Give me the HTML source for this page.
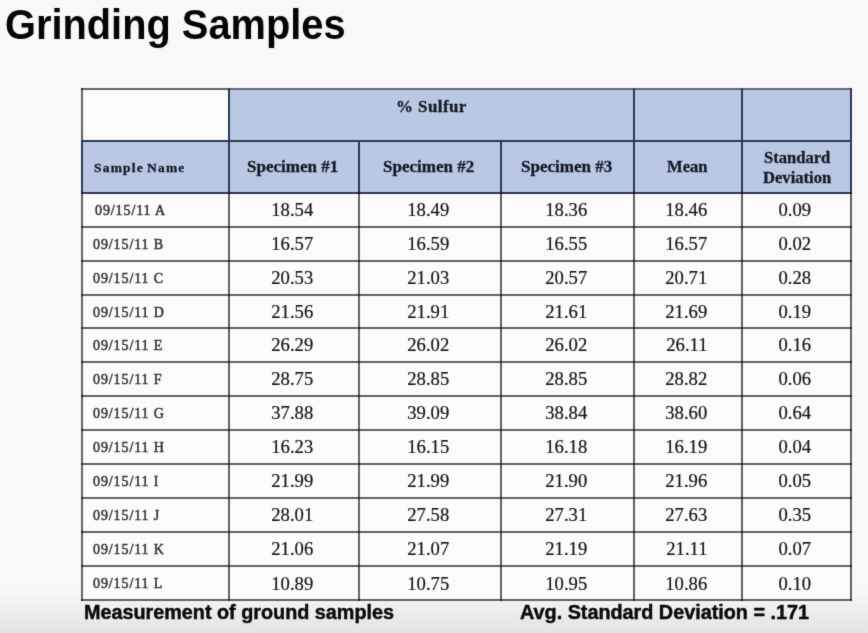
<!DOCTYPE html>
<html><head><meta charset="utf-8">
<style>
html,body{margin:0;padding:0;}
body{width:868px;height:633px;overflow:hidden;position:relative;background:#f8f8fa;font-family:"Liberation Sans",sans-serif;}
#grad{position:absolute;left:0;top:588px;width:868px;height:45px;background:linear-gradient(to bottom,rgba(227,227,229,0) 0%,rgba(227,227,229,1) 100%);}
#wrap{position:absolute;left:0;top:0;width:868px;height:633px;filter:url(#bl);}
.a{position:absolute;}
.t{white-space:nowrap;display:block;will-change:transform;}
h1{position:absolute;left:5px;top:2px;margin:0;font:bold 39.8px/46px "Liberation Sans",sans-serif;color:#050505;transform:scaleY(1.09);transform-origin:0 38px;}
.cap{position:absolute;top:600px;font:bold 19.8px/24px "Liberation Sans",sans-serif;color:#0a0a0a;-webkit-text-stroke:0.45px #0a0a0a;}
.cell{position:absolute;display:flex;align-items:center;justify-content:center;box-sizing:border-box;}
.w{background:#fbfbfc;}
.b{background:#b9c8e3;}
.hd{font:bold 16.6px/19.7px "Liberation Serif",serif;color:#151a26;text-align:center;-webkit-text-stroke:0.3px #151a26;}
.hd .t{position:relative;top:1px;}
.sp{font-size:17px;}
.sp .t,.mn .t{top:0px;left:-1px;}
.sd .t{left:0.7px;}
.num{font:18px/20px "Liberation Serif",serif;color:#151515;-webkit-text-stroke:0.2px #1a1a1a;}
.num .t{position:relative;top:0px;left:-1.5px;transform:scaleX(1.035);}
.sn{font:14px/16px "Liberation Serif",serif;color:#333;letter-spacing:0.9px;justify-content:flex-start;padding-left:11px;-webkit-text-stroke:0.5px #333;}
.sn .t{position:relative;top:1px;left:-1px;}
.snh .t{top:1px;}
.snh{font-size:13.5px;letter-spacing:1.2px;word-spacing:-1.5px;justify-content:flex-start;padding-left:11px;}
.pct .t{top:0;left:0px;}
.pct{align-items:flex-start;padding-top:6.5px;font-size:17px;letter-spacing:0.4px;}
.hl{position:absolute;height:2px;}
.vl{position:absolute;width:2px;}
.g{background:rgba(0,0,0,0.6);}
.tp{background:#66667a;}
.n{background:#2f3b52;}

</style></head>
<body>
<svg width="0" height="0" style="position:absolute"><filter id="bl" x="0" y="0" width="100%" height="100%" color-interpolation-filters="sRGB"><feConvolveMatrix order="3" kernelMatrix="0.0113 0.0838 0.0113 0.0838 0.6196 0.0838 0.0113 0.0838 0.0113" edgeMode="duplicate"/></filter></svg>
<div id="grad"></div>
<div id="wrap">
<h1 class="t">Grinding Samples</h1>
<div class="a w" style="left:81px;top:88px;width:147px;height:52px"></div>
<div class="a b" style="left:228px;top:88px;width:624px;height:52px"></div>
<div class="a b" style="left:81px;top:140px;width:771px;height:52px"></div>
<div class="a w" style="left:81px;top:192px;width:771px;height:409px"></div>
<div class="cell hd pct" style="left:230px;top:90px;width:403px;height:50px;"><span class="t">% Sulfur</span></div>
<div class="cell hd snh" style="left:83px;top:142px;width:145px;height:50px;"><span class="t">Sample Name</span></div>
<div class="cell hd sp" style="left:230px;top:142px;width:128px;height:50px;"><span class="t">Specimen #1</span></div>
<div class="cell hd sp" style="left:360px;top:142px;width:140px;height:50px;"><span class="t">Specimen #2</span></div>
<div class="cell hd sp" style="left:502px;top:142px;width:131px;height:50px;"><span class="t">Specimen #3</span></div>
<div class="cell hd mn" style="left:635px;top:142px;width:106px;height:50px;"><span class="t">Mean</span></div>
<div class="cell hd sd" style="left:743px;top:142px;width:107px;height:50px;"><span class="t">Standard<br>Deviation</span></div>
<div class="cell sn" style="left:83px;top:194px;width:145px;height:32px;padding-left:13px;"><span class="t">09/15/11 A</span></div>
<div class="cell num" style="left:230px;top:194px;width:128px;height:32px;"><span class="t">18.54</span></div>
<div class="cell num" style="left:360px;top:194px;width:140px;height:32px;"><span class="t">18.49</span></div>
<div class="cell num" style="left:502px;top:194px;width:131px;height:32px;"><span class="t">18.36</span></div>
<div class="cell num" style="left:635px;top:194px;width:106px;height:32px;"><span class="t">18.46</span></div>
<div class="cell num" style="left:743px;top:194px;width:107px;height:32px;"><span class="t">0.09</span></div>
<div class="cell sn" style="left:83px;top:228px;width:145px;height:32px;"><span class="t">09/15/11 B</span></div>
<div class="cell num" style="left:230px;top:228px;width:128px;height:32px;"><span class="t">16.57</span></div>
<div class="cell num" style="left:360px;top:228px;width:140px;height:32px;"><span class="t">16.59</span></div>
<div class="cell num" style="left:502px;top:228px;width:131px;height:32px;"><span class="t">16.55</span></div>
<div class="cell num" style="left:635px;top:228px;width:106px;height:32px;"><span class="t">16.57</span></div>
<div class="cell num" style="left:743px;top:228px;width:107px;height:32px;"><span class="t">0.02</span></div>
<div class="cell sn" style="left:83px;top:262px;width:145px;height:32px;"><span class="t">09/15/11 C</span></div>
<div class="cell num" style="left:230px;top:262px;width:128px;height:32px;"><span class="t">20.53</span></div>
<div class="cell num" style="left:360px;top:262px;width:140px;height:32px;"><span class="t">21.03</span></div>
<div class="cell num" style="left:502px;top:262px;width:131px;height:32px;"><span class="t">20.57</span></div>
<div class="cell num" style="left:635px;top:262px;width:106px;height:32px;"><span class="t">20.71</span></div>
<div class="cell num" style="left:743px;top:262px;width:107px;height:32px;"><span class="t">0.28</span></div>
<div class="cell sn" style="left:83px;top:296px;width:145px;height:31px;"><span class="t">09/15/11 D</span></div>
<div class="cell num" style="left:230px;top:296px;width:128px;height:31px;"><span class="t">21.56</span></div>
<div class="cell num" style="left:360px;top:296px;width:140px;height:31px;"><span class="t">21.91</span></div>
<div class="cell num" style="left:502px;top:296px;width:131px;height:31px;"><span class="t">21.61</span></div>
<div class="cell num" style="left:635px;top:296px;width:106px;height:31px;"><span class="t">21.69</span></div>
<div class="cell num" style="left:743px;top:296px;width:107px;height:31px;"><span class="t">0.19</span></div>
<div class="cell sn" style="left:83px;top:329px;width:145px;height:32px;"><span class="t">09/15/11 E</span></div>
<div class="cell num" style="left:230px;top:329px;width:128px;height:32px;"><span class="t">26.29</span></div>
<div class="cell num" style="left:360px;top:329px;width:140px;height:32px;"><span class="t">26.02</span></div>
<div class="cell num" style="left:502px;top:329px;width:131px;height:32px;"><span class="t">26.02</span></div>
<div class="cell num" style="left:635px;top:329px;width:106px;height:32px;"><span class="t">26.11</span></div>
<div class="cell num" style="left:743px;top:329px;width:107px;height:32px;"><span class="t">0.16</span></div>
<div class="cell sn" style="left:83px;top:363px;width:145px;height:32px;"><span class="t">09/15/11 F</span></div>
<div class="cell num" style="left:230px;top:363px;width:128px;height:32px;"><span class="t">28.75</span></div>
<div class="cell num" style="left:360px;top:363px;width:140px;height:32px;"><span class="t">28.85</span></div>
<div class="cell num" style="left:502px;top:363px;width:131px;height:32px;"><span class="t">28.85</span></div>
<div class="cell num" style="left:635px;top:363px;width:106px;height:32px;"><span class="t">28.82</span></div>
<div class="cell num" style="left:743px;top:363px;width:107px;height:32px;"><span class="t">0.06</span></div>
<div class="cell sn" style="left:83px;top:397px;width:145px;height:32px;"><span class="t">09/15/11 G</span></div>
<div class="cell num" style="left:230px;top:397px;width:128px;height:32px;"><span class="t">37.88</span></div>
<div class="cell num" style="left:360px;top:397px;width:140px;height:32px;"><span class="t">39.09</span></div>
<div class="cell num" style="left:502px;top:397px;width:131px;height:32px;"><span class="t">38.84</span></div>
<div class="cell num" style="left:635px;top:397px;width:106px;height:32px;"><span class="t">38.60</span></div>
<div class="cell num" style="left:743px;top:397px;width:107px;height:32px;"><span class="t">0.64</span></div>
<div class="cell sn" style="left:83px;top:431px;width:145px;height:32px;"><span class="t">09/15/11 H</span></div>
<div class="cell num" style="left:230px;top:431px;width:128px;height:32px;"><span class="t">16.23</span></div>
<div class="cell num" style="left:360px;top:431px;width:140px;height:32px;"><span class="t">16.15</span></div>
<div class="cell num" style="left:502px;top:431px;width:131px;height:32px;"><span class="t">16.18</span></div>
<div class="cell num" style="left:635px;top:431px;width:106px;height:32px;"><span class="t">16.19</span></div>
<div class="cell num" style="left:743px;top:431px;width:107px;height:32px;"><span class="t">0.04</span></div>
<div class="cell sn" style="left:83px;top:465px;width:145px;height:32px;"><span class="t">09/15/11 I</span></div>
<div class="cell num" style="left:230px;top:465px;width:128px;height:32px;"><span class="t">21.99</span></div>
<div class="cell num" style="left:360px;top:465px;width:140px;height:32px;"><span class="t">21.99</span></div>
<div class="cell num" style="left:502px;top:465px;width:131px;height:32px;"><span class="t">21.90</span></div>
<div class="cell num" style="left:635px;top:465px;width:106px;height:32px;"><span class="t">21.96</span></div>
<div class="cell num" style="left:743px;top:465px;width:107px;height:32px;"><span class="t">0.05</span></div>
<div class="cell sn" style="left:83px;top:499px;width:145px;height:32px;"><span class="t">09/15/11 J</span></div>
<div class="cell num" style="left:230px;top:499px;width:128px;height:32px;"><span class="t">28.01</span></div>
<div class="cell num" style="left:360px;top:499px;width:140px;height:32px;"><span class="t">27.58</span></div>
<div class="cell num" style="left:502px;top:499px;width:131px;height:32px;"><span class="t">27.31</span></div>
<div class="cell num" style="left:635px;top:499px;width:106px;height:32px;"><span class="t">27.63</span></div>
<div class="cell num" style="left:743px;top:499px;width:107px;height:32px;"><span class="t">0.35</span></div>
<div class="cell sn" style="left:83px;top:533px;width:145px;height:32px;"><span class="t">09/15/11 K</span></div>
<div class="cell num" style="left:230px;top:533px;width:128px;height:32px;"><span class="t">21.06</span></div>
<div class="cell num" style="left:360px;top:533px;width:140px;height:32px;"><span class="t">21.07</span></div>
<div class="cell num" style="left:502px;top:533px;width:131px;height:32px;"><span class="t">21.19</span></div>
<div class="cell num" style="left:635px;top:533px;width:106px;height:32px;"><span class="t">21.11</span></div>
<div class="cell num" style="left:743px;top:533px;width:107px;height:32px;"><span class="t">0.07</span></div>
<div class="cell sn" style="left:83px;top:567px;width:145px;height:32px;"><span class="t">09/15/11 L</span></div>
<div class="cell num" style="left:230px;top:567px;width:128px;height:32px;padding-top:2px;"><span class="t">10.89</span></div>
<div class="cell num" style="left:360px;top:567px;width:140px;height:32px;padding-top:2px;"><span class="t">10.75</span></div>
<div class="cell num" style="left:502px;top:567px;width:131px;height:32px;padding-top:2px;"><span class="t">10.95</span></div>
<div class="cell num" style="left:635px;top:567px;width:106px;height:32px;padding-top:2px;"><span class="t">10.86</span></div>
<div class="cell num" style="left:743px;top:567px;width:107px;height:32px;padding-top:2px;"><span class="t">0.10</span></div>
<div class="hl g" style="left:81px;top:88px;width:147px"></div>
<div class="hl tp" style="left:228px;top:88px;width:624px"></div>
<div class="hl n" style="left:81px;top:140px;width:771px"></div>
<div class="hl n" style="left:81px;top:192px;width:771px"></div>
<div class="hl g" style="left:81px;top:226px;width:771px"></div>
<div class="hl g" style="left:81px;top:260px;width:771px"></div>
<div class="hl g" style="left:81px;top:294px;width:771px"></div>
<div class="hl g" style="left:81px;top:327px;width:771px"></div>
<div class="hl g" style="left:81px;top:361px;width:771px"></div>
<div class="hl g" style="left:81px;top:395px;width:771px"></div>
<div class="hl g" style="left:81px;top:429px;width:771px"></div>
<div class="hl g" style="left:81px;top:463px;width:771px"></div>
<div class="hl g" style="left:81px;top:497px;width:771px"></div>
<div class="hl g" style="left:81px;top:531px;width:771px"></div>
<div class="hl g" style="left:81px;top:565px;width:771px"></div>
<div class="hl g" style="left:81px;top:599px;width:771px"></div>
<div class="vl g" style="left:81px;top:88px;height:52px"></div>
<div class="vl n" style="left:81px;top:140px;height:52px"></div>
<div class="vl g" style="left:81px;top:192px;height:409px"></div>
<div class="vl n" style="left:228px;top:88px;height:104px"></div>
<div class="vl g" style="left:228px;top:192px;height:409px"></div>
<div class="vl n" style="left:358px;top:140px;height:52px"></div>
<div class="vl g" style="left:358px;top:192px;height:409px"></div>
<div class="vl n" style="left:500px;top:140px;height:52px"></div>
<div class="vl g" style="left:500px;top:192px;height:409px"></div>
<div class="vl n" style="left:633px;top:88px;height:104px"></div>
<div class="vl g" style="left:633px;top:192px;height:409px"></div>
<div class="vl n" style="left:741px;top:88px;height:104px"></div>
<div class="vl g" style="left:741px;top:192px;height:409px"></div>
<div class="vl n" style="left:850px;top:88px;height:104px"></div>
<div class="vl g" style="left:850px;top:192px;height:409px"></div>
<div class="cap t" style="left:84px">Measurement of ground samples</div>
<div class="cap t" style="left:519.5px">Avg. Standard Deviation = .171</div>
</div>
</body></html>
